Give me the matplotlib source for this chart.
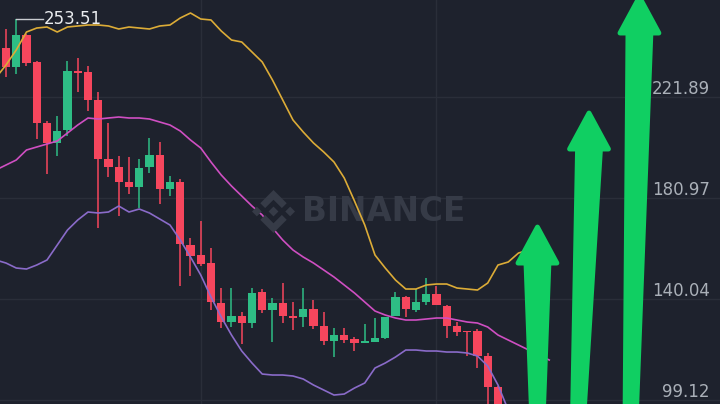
import matplotlib
matplotlib.use("Agg")
import matplotlib.pyplot as plt
import matplotlib.transforms as mtransforms
import numpy as np
from matplotlib.patches import Polygon

# daily candles, index 0 sits just off the left edge
opens = [232.0, 241.86, 234.16, 247.01, 236.07, 211.35, 203.25, 208.51, 232.54, 232.01,
         220.67, 196.76, 193.52, 187.44, 185.42, 193.52, 198.38, 184.61, 187.44, 161.92,
         157.86, 154.62, 138.41, 130.72, 133.15, 130.31, 142.87, 135.58, 138.41, 132.90,
         132.74, 135.98, 129.10, 123.02, 125.45, 123.83, 122.21, 122.61, 124.23, 133.15,
         140.85, 135.58, 138.82, 142.06, 137.20, 129.10, 127.07, 127.07, 116.94, 104.38,
         93.5, 88.0, 84.0, 86.0, 83.0]
highs = [242.0, 249.44, 253.51, 247.41, 236.47, 212.16, 214.19, 236.47, 237.69, 234.45,
         223.91, 211.35, 197.98, 197.57, 196.76, 205.27, 203.65, 189.88, 188.66, 164.75,
         171.64, 160.70, 144.49, 144.49, 134.77, 144.49, 144.09, 140.44, 146.52, 138.82,
         144.49, 139.63, 134.77, 128.29, 128.29, 124.64, 129.91, 132.34, 132.74, 142.87,
         141.25, 144.09, 148.55, 145.30, 137.60, 130.72, 127.07, 127.88, 118.16, 104.78,
         95.0, 90.0, 89.0, 88.0, 87.0]
lows = [229.0, 229.99, 231.21, 234.45, 204.87, 190.69, 197.98, 206.08, 223.91, 216.21,
        168.80, 189.47, 173.66, 182.58, 176.91, 191.09, 178.53, 181.77, 145.30, 149.36,
        153.41, 135.58, 128.29, 128.69, 121.80, 128.29, 134.36, 122.61, 130.31, 127.47,
        128.69, 127.88, 121.40, 116.53, 122.21, 118.97, 122.21, 122.61, 123.83, 133.15,
        132.74, 134.77, 137.60, 137.60, 124.23, 125.04, 116.94, 112.08, 95.06, 88.0,
        85.0, 80.0, 81.0, 79.0, 80.0]
closes = [240.0, 234.16, 247.13, 235.66, 211.35, 203.25, 208.11, 232.42, 231.73, 220.67,
          196.76, 193.52, 187.44, 185.42, 193.12, 198.38, 184.61, 187.44, 162.32, 157.46,
          154.22, 138.82, 130.72, 133.15, 130.31, 142.47, 135.58, 138.41, 133.15, 132.50,
          135.98, 129.10, 123.02, 125.45, 123.42, 122.21, 123.02, 124.23, 132.74, 140.85,
          135.98, 138.82, 142.06, 137.60, 129.10, 126.66, 126.66, 116.94, 104.38, 93.5,
          88.0, 84.0, 86.0, 83.0, 85.0]

# bollinger bands (20, 2)
upper_band = [229.6, 234.85, 240.93, 248.22, 249.84, 250.25, 248.22, 250.25, 250.66, 251.06,
              251.06, 250.66, 249.44, 250.25, 249.84, 249.44, 250.66, 251.06, 253.90, 255.92,
              253.49, 253.09, 248.63, 244.98, 244.17, 240.12, 236.07, 228.77, 220.67, 212.57,
              207.70, 203.25, 199.60, 195.55, 189.07, 179.74, 170.02, 157.86, 152.60, 147.73,
              144.09, 144.09, 145.71, 146.11, 146.11, 144.49, 144.09, 143.68, 146.52, 153.81,
              155.03, 158.67, 159.89, 159.89, 159.08]
middle_band = [192.30, 194.33, 196.36, 200.41, 201.63, 202.84, 204.06, 207.30, 210.54, 213.38,
               212.97, 213.38, 213.78, 213.38, 213.38, 212.97, 211.76, 210.54, 208.11, 204.46,
               201.22, 195.55, 190.28, 185.82, 181.77, 177.72, 174.07, 168.80, 163.94, 159.89,
               157.05, 154.62, 151.79, 148.95, 145.71, 142.47, 138.82, 135.17, 133.55, 132.34,
               131.53, 131.53, 131.93, 132.34, 132.34, 131.53, 130.72, 130.31, 128.69, 125.45,
               123.42, 121.40, 119.37, 117.35, 115.32]
lower_band = [155.84, 154.62, 152.60, 152.19, 153.81, 155.84, 161.92, 167.99, 172.05, 175.29,
              174.88, 175.29, 177.72, 175.29, 176.50, 174.88, 172.45, 170.02, 163.94, 157.05,
              149.76, 140.85, 132.74, 125.45, 118.97, 114.10, 109.64, 109.24, 109.24, 108.84,
              107.62, 105.19, 103.16, 101.13, 101.54, 103.97, 106.00, 112.08, 114.10, 116.53,
              119.37, 119.37, 118.97, 118.97, 118.56, 118.56, 118.16, 116.94, 112.89, 105.19,
              95.06, 87.0, 79.0, 73.0, 66.8]

price_ticks = [99.12, 140.04, 180.97, 221.89]
grid_candles = [20, 43]
peak_index = 2
peak_label = "253.51"

# hand-drawn green arrows: shaft bottom x, shaft top x, tip price
arrow_bottom_x = [52.85, 56.80, 61.93]
arrow_top_x = [52.85, 57.88, 62.80]
arrow_tip = [169.2, 215.4, 262.4]

BG = "#1e222d"
GRID = "#2a2e39"
UP = "#2ebd85"
DOWN = "#f6465d"
ARROW = "#10cf62"
MARK = "#363b47"

fig = plt.figure(figsize=(7.2, 4.04), dpi=100)
fig.patch.set_facecolor(BG)
ax = fig.add_axes([0, 0, 1, 1])
ax.set_facecolor(BG)
ax.set_xlim(0.415, 70.66)
ax.set_ylim(97.5, 261.19)
for spine in ax.spines.values():
    spine.set_visible(False)
ax.set_xticks([])
ax.set_yticks([])

for tick in price_ticks:
    ax.axhline(tick, color=GRID, lw=1, zorder=0)
for idx in grid_candles:
    ax.axvline(idx, color=GRID, lw=1, zorder=0)

# watermark
ax.text(0.419, 0.477, "BINANCE", transform=ax.transAxes, ha="left", va="center",
        fontsize=23.5, fontweight="bold", color=MARK, zorder=0.5)
logo_ax = fig.add_axes([252 / 720, 1 - 233 / 404, 43 / 720, 43 / 404])
logo_ax.set_xlim(0, 126.61)
logo_ax.set_ylim(126.61, 0)
logo_ax.axis("off")
logo_shapes = [
    [(38.73, 53.2), (63.3, 28.64), (87.89, 53.22), (102.19, 38.92), (63.3, 0), (24.42, 38.91)],
    [(0, 63.31), (14.3, 49.01), (28.6, 63.31), (14.3, 77.61)],
    [(38.73, 73.41), (63.3, 97.97), (87.9, 73.39), (102.2, 87.68), (63.3, 126.61), (24.41, 87.72)],
    [(98.01, 63.31), (112.31, 49.01), (126.61, 63.31), (112.31, 77.61)],
    [(63.3, 48.77), (77.83, 63.3), (63.3, 77.83), (48.77, 63.3)],
]
for shape in logo_shapes:
    logo_ax.add_patch(Polygon(shape, closed=True, facecolor=MARK, edgecolor="none"))

# candles
idx = np.arange(len(opens))
o = np.array(opens)
c = np.array(closes)
colors = [UP if cc >= oo else DOWN for oo, cc in zip(o, c)]
ax.vlines(idx, lows, highs, colors=colors, lw=1.1, zorder=2)
body_low = np.minimum(o, c)
body_h = np.maximum(np.abs(c - o), 0.6)
ax.bar(idx, body_h, bottom=body_low, width=0.8, color=colors, zorder=3)

# bands
ax.plot(idx, upper_band, color="#dcac37", lw=1.2, zorder=4)
ax.plot(idx, middle_band, color="#cf4fc2", lw=1.2, zorder=4)
ax.plot(idx, lower_band, color="#8a6bc9", lw=1.2, zorder=4)

# peak marker
ax.plot([peak_index, 4.6], [highs[peak_index]] * 2, color="#c9ccd1", lw=1, zorder=5)
ax.text(4.71, highs[peak_index], peak_label, ha="left", va="center",
        fontsize=12, color="#eaecef", zorder=5)

# price scale labels
blend = mtransforms.blended_transform_factory(ax.transAxes, ax.transData)
for tick in price_ticks:
    ax.text(0.986, tick + 1.2, f"{tick:.2f}", transform=blend, ha="right",
            va="baseline", fontsize=12, color="#aab0b8", zorder=5)

# arrows
head_len = 14.6
head_half = 1.9
for xb, xt, tip in zip(arrow_bottom_x, arrow_top_x, arrow_tip):
    base = tip - head_len
    pts = [(xb - 0.54, 90.0), (xt - 1.12, base), (xt - head_half, base), (xt, tip),
           (xt + head_half, base), (xt + 1.12, base), (xb + 0.54, 90.0)]
    ax.add_patch(Polygon(pts, closed=True, facecolor=ARROW, edgecolor=ARROW,
                         lw=3.5, joinstyle="round", zorder=6))

fig.savefig("out.png", dpi=100, facecolor=BG)
